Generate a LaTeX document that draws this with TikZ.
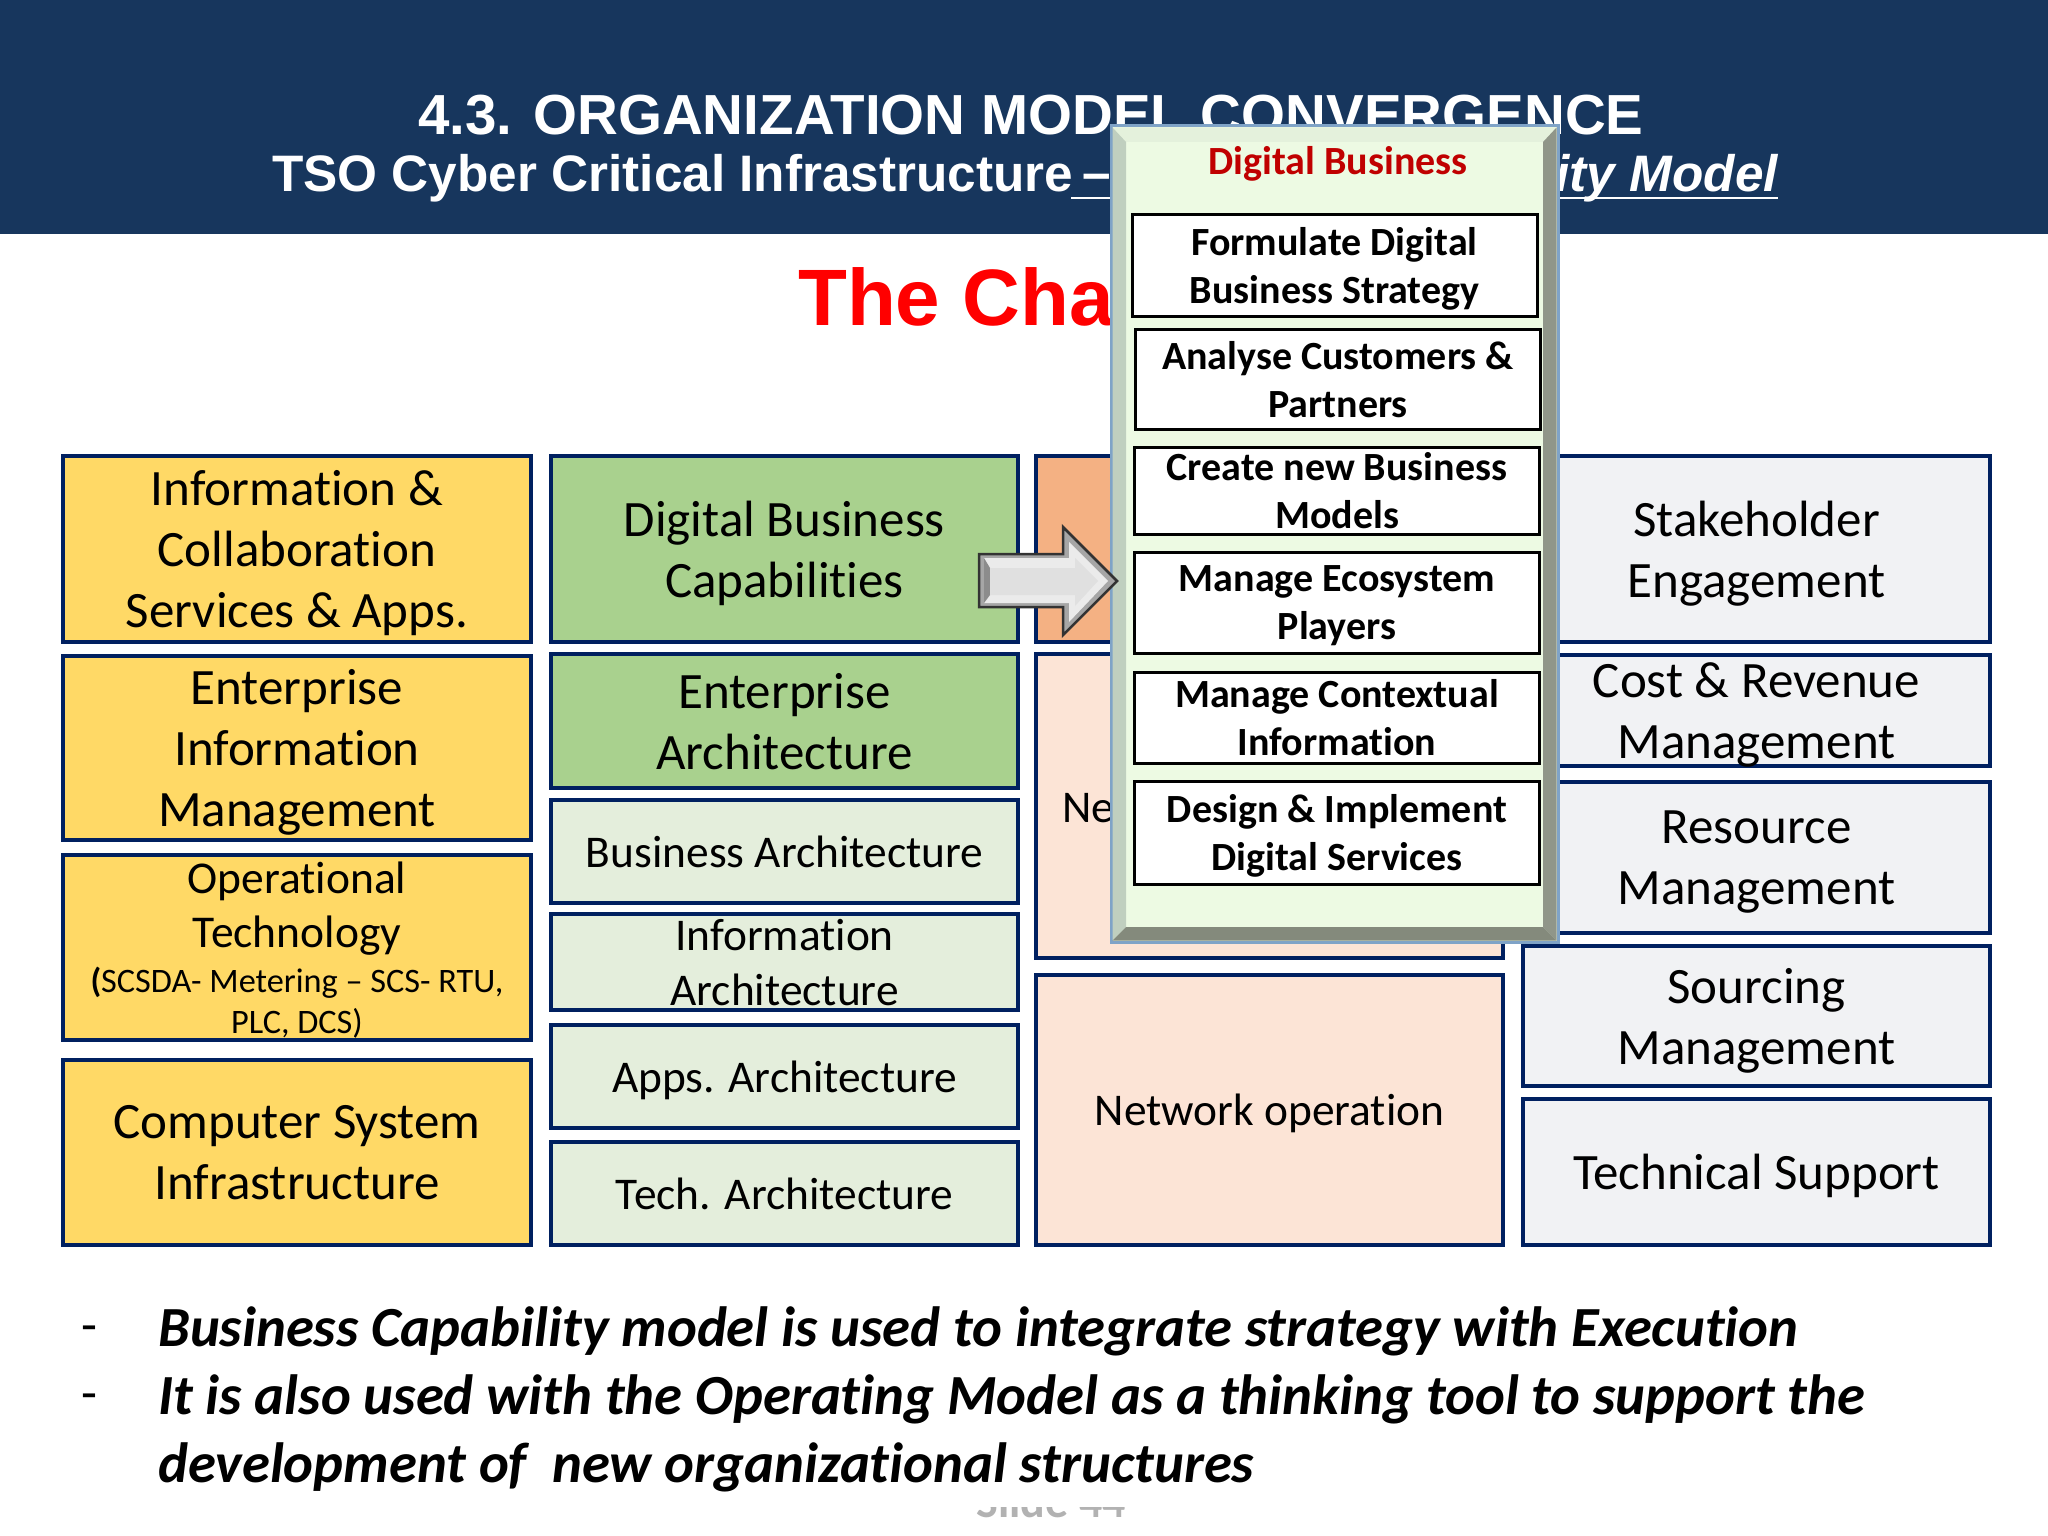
\documentclass[tikz,border=0pt]{standalone}
\usepackage{xcolor}
\usepackage{fontspec}
\usepackage{tikz}
\setmainfont{Carlito}[Ligatures={TeX,NoCommon}]
\newfontfamily\titlefont{Liberation Sans}
\definecolor{headnavy}{HTML}{17365D}
\definecolor{edgenavy}{HTML}{002060}
\definecolor{capyellow}{HTML}{FFD966}
\definecolor{capgreen}{HTML}{A9D18E}
\definecolor{palegreen}{HTML}{E4EEDC}
\definecolor{caporange}{HTML}{F4B183}
\definecolor{cappeach}{HTML}{FCE4D6}
\definecolor{capgrey}{HTML}{F1F2F4}
\definecolor{popfill}{HTML}{EDFAE3}
\definecolor{popred}{HTML}{C00000}
\definecolor{popedge}{HTML}{7FA3C7}
\definecolor{bevellight}{HTML}{C0CFBF}
\definecolor{beveldark}{HTML}{848A7C}
\newcommand{\smalltech}{\fontsize{34.3}{40}\selectfont}
\begin{document}
\begin{tikzpicture}[x=1pt,y=-1pt]
\tikzstyle{every node}+=[inner sep=0pt]
\tikzstyle{capbox}=[draw=edgenavy,line width=4.5pt,align=center,text depth=0pt,font=\fontsize{51}{61}\selectfont]
\tikzstyle{subbox}=[capbox,font=\fontsize{45.4}{55}\selectfont]
\tikzstyle{popbox}=[draw=black,line width=3pt,fill=white,minimum width=405pt,align=center,text depth=0pt,font=\fontsize{40}{48}\selectfont\bfseries]
\tikzstyle{bullet}=[anchor=west,font=\fontsize{56.7}{62}\selectfont\bfseries\itshape]
\useasboundingbox (0,0) rectangle (2048,1536);
\fill [white] (0,0) rectangle (2048,1536);
\fill [headnavy] (0,0) rectangle (2048,234);
\node (title) at (1031,115) [text=white,font=\fontsize{56.5}{60}\selectfont\titlefont\bfseries] {4.3. ORGANIZATION MODEL CONVERGENCE};
\node (subtitle) at (272,178) [anchor=west,text=white,font=\fontsize{51.3}{60}\selectfont\titlefont\bfseries] {TSO Cyber Critical Infrastructure};
\node (subdash) at (1097,182) [text=white,font=\fontsize{51.3}{60}\selectfont\titlefont\bfseries] {–};
\draw [white,line width=2.5pt] (1071,198) -- (1112,198);
\node (subend) at (1778,178) [anchor=east,text=white,font=\fontsize{51.3}{60}\selectfont\titlefont\bfseries\itshape] {ity Model};
\draw [white,line width=2.5pt] (1556,198) -- (1778,198);
\node (slogan) at (798,325) [anchor=base west,text=red,font=\fontsize{80}{90}\selectfont\titlefont\bfseries] {The Cha};
\node (info) at (297,549) [capbox,fill=capyellow,minimum width=468pt,minimum height=186pt] {Information \&\\Collaboration\\Services \& Apps.};
\node (eim) at (297,748) [capbox,fill=capyellow,minimum width=468pt,minimum height=184pt] {Enterprise\\Information\\Management};
\node (optech) at (297,947.5) [capbox,fill=capyellow,minimum width=468pt,minimum height=185pt,font=\fontsize{45.5}{54}\selectfont] {Operational\\Technology\\[-9pt]\smalltech\textbf{(}SCSDA- Metering -- SCS- RTU,\\[-13pt]\smalltech PLC, DCS)};
\node (csi) at (297,1152.5) [capbox,fill=capyellow,minimum width=468pt,minimum height=185pt] {Computer System\\Infrastructure};
\node (digcap) at (784.5,549) [capbox,fill=capgreen,minimum width=467pt,minimum height=186pt] {Digital Business\\Capabilities};
\node (entarch) at (784.5,721) [capbox,fill=capgreen,minimum width=467pt,minimum height=134pt] {Enterprise\\Architecture};
\node (busarch) at (784.5,851.5) [subbox,fill=palegreen,minimum width=467pt,minimum height=103pt] {Business Architecture};
\node (infarch) at (784.5,962) [subbox,fill=palegreen,minimum width=467pt,minimum height=96pt] {Information\\Architecture};
\node (apparch) at (784.5,1076.5) [subbox,fill=palegreen,minimum width=467pt,minimum height=103pt] {Apps. Architecture};
\node (techarch) at (784.5,1193.5) [subbox,fill=palegreen,minimum width=467pt,minimum height=103pt] {Tech. Architecture};
\node (netplan) at (1269.5,549) [capbox,fill=caporange,minimum width=467pt,minimum height=186pt] {};
\node (netdesign) at (1269.5,806) [subbox,fill=cappeach,minimum width=467pt,minimum height=304pt] {};
\node (netpart) at (1062,808) [anchor=west,font=\fontsize{45.4}{55}\selectfont] {Ne};
\node (netop) at (1269.5,1110) [subbox,fill=cappeach,minimum width=467pt,minimum height=270pt] {Network operation};
\node (stake) at (1756.5,549) [capbox,fill=capgrey,minimum width=467pt,minimum height=186pt] {Stakeholder\\Engagement};
\node (cost) at (1756.5,710.5) [capbox,fill=capgrey,minimum width=467pt,minimum height=111pt] {Cost \& Revenue\\Management};
\node (resource) at (1756.5,857.5) [capbox,fill=capgrey,minimum width=467pt,minimum height=151pt] {Resource\\Management};
\node (sourcing) at (1756.5,1016) [capbox,fill=capgrey,minimum width=467pt,minimum height=140pt] {Sourcing\\Management};
\node (support) at (1756.5,1172) [capbox,fill=capgrey,minimum width=467pt,minimum height=146pt] {Technical Support};
\node (slideno) at (1051,1517) [anchor=base,text=black!30,font=\fontsize{46}{47}\selectfont\bfseries] {Slide 44};
\fill [white] (950,1465) rectangle (1160,1507);
\node (dashone) at (89,1334) [font=\fontsize{52}{62}\selectfont] {-};
\node (lineone) at (158,1331) [bullet] {Business Capability model is used to integrate strategy with Execution};
\node (dashtwo) at (89,1402) [font=\fontsize{52}{62}\selectfont] {-};
\node (linetwo) at (158,1399) [bullet] {It is also used with the Operating Model as a thinking tool to support the};
\node (linethree) at (158,1467) [bullet] {development of\ \ new organizational structures};
\draw [popedge,fill=popfill,line width=3pt] (1111,126) rectangle (1558,942);
\fill [bevellight!20!popfill] (1112.5,127.5) -- (1556.5,127.5) -- (1543,142) -- (1126,142) -- cycle;
\fill [bevellight] (1112.5,127.5) -- (1126,142) -- (1126,927) -- (1112.5,940.5) -- cycle;
\fill [beveldark!90!white] (1556.5,127.5) -- (1543,142) -- (1543,927) -- (1556.5,940.5) -- cycle;
\fill [beveldark] (1112.5,940.5) -- (1126,927) -- (1543,927) -- (1556.5,940.5) -- cycle;
\node (popname) at (1338,164) [text=popred,font=\fontsize{40}{48}\selectfont\bfseries] {Digital Business};
\node (formulate) at (1334.5,265) [popbox,minimum height=102pt] {Formulate Digital\\Business Strategy};
\node (analyse) at (1338,379) [popbox,minimum height=100pt] {Analyse Customers \&\\Partners};
\node (create) at (1337,490.5) [popbox,minimum height=87pt] {Create new Business\\Models};
\node (ecosystem) at (1337,602.5) [popbox,minimum height=101pt] {Manage Ecosystem\\Players};
\node (context) at (1337,717.5) [popbox,minimum height=91pt] {Manage Contextual\\Information};
\node (design) at (1337,832.5) [popbox,minimum height=103pt] {Design \& Implement\\Digital Services};
\draw [black!80,line width=2.5pt,fill=black!35,line join=miter] (979,554) -- (1063,554) -- (1063,527) -- (1117,581) -- (1063,635) -- (1063,607) -- (979,607) -- cycle;
\fill [black!8] (984,558) -- (1069,558) -- (1069,542) -- (1108,581) -- (1069,622) -- (1069,603) -- (984,603) -- cycle;
\fill [black!45] (984,558) -- (990,568) -- (990,595) -- (984,603) -- cycle;
\fill [black!12] (990,568) -- (1075,568) -- (1075,558) -- (1098,581) -- (1075,606) -- (1075,595) -- (990,595) -- cycle;
\end{tikzpicture}
\end{document}
